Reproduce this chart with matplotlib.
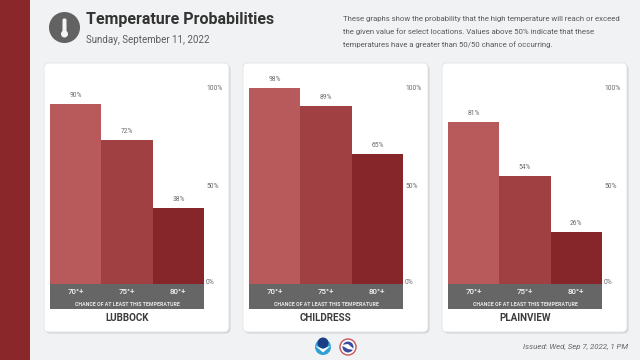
#!/usr/bin/env python3
import matplotlib
matplotlib.use("Agg")
import matplotlib.pyplot as plt
from matplotlib.patches import Circle, FancyBboxPatch, Polygon, Rectangle

plt.rcParams["font.family"] = ["Roboto", "DejaVu Sans"]

cities = ["LUBBOCK", "CHILDRESS", "PLAINVIEW"]
thresholds = ["70°+", "75°+", "80°+"]
lubbock = [90, 72, 38]
childress = [98, 89, 65]
plainview = [81, 54, 26]
scale_labels = ["100%", "50%", "0%"]
bar_colors = ["#b85a5c", "#a04042", "#86262a"]
title = "Temperature Probabilities"
subtitle = "Sunday, September 11, 2022"
blurb = ["These graphs show the probability that the high temperature will reach or exceed",
         "the given value for select locations. Values above 50% indicate that these",
         "temperatures have a greater than 50/50 chance of occurring."]
band_text = "CHANCE OF AT LEAST THIS TEMPERATURE"
issued = "Issued: Wed, Sep 7, 2022, 1 PM"

W, H = 640, 360
fig = plt.figure(figsize=(W / 100, H / 100), dpi=100, facecolor="#f0f2f3")

# page furniture is laid out in pixel coordinates
bg = fig.add_axes([0, 0, 1, 1])
bg.set_xlim(0, W)
bg.set_ylim(H, 0)
bg.axis("off")
bg.add_patch(Rectangle((0, 0), 30, H, color="#8a272b", lw=0))

# thermometer icon
bg.add_patch(Circle((64.5, 27.5), 15.5, color="#626262", lw=0))
bg.add_patch(FancyBboxPatch((63, 19), 3, 14, boxstyle="round,pad=0.5,rounding_size=1.5", fc="#f4f4f4", lw=0))
bg.add_patch(Circle((64.5, 34), 3.5, color="#f4f4f4", lw=0))

bg.text(86, 19.5, title, fontsize=11.5, color="#333333", va="center", ha="left", fontweight="bold")
bg.text(86, 40, subtitle, fontsize=7.0, color="#5c5c5c", va="center", ha="left")
for i, line in enumerate(blurb):
    bg.text(343, 18.5 + 13 * i, line, fontsize=5.55, color="#5a5a5a", va="center", ha="left")

card_lefts = [44, 243, 442]
bar_lefts = [50, 249, 448]
for cx in card_lefts:
    bg.add_patch(FancyBboxPatch((cx + 1.5, 64.5), 185, 269, boxstyle="round,pad=0,rounding_size=5",
                                fc="#d2d4d6", lw=0))
    bg.add_patch(FancyBboxPatch((cx, 63), 185, 269, boxstyle="round,pad=0,rounding_size=5",
                                fc="white", ec="#e2e4e5", lw=0.6))

series = [lubbock, childress, plainview]
for left, city, values in zip(bar_lefts, cities, series):
    # 2 px per percent, 0% sits at y=284 and the grey band runs 24 px below it
    ax = fig.add_axes([left / W, 1 - 284 / H, 154 / W, 200 / H])
    ax.patch.set_alpha(0)
    ax.set_xlim(-0.5, 2.5)
    ax.set_ylim(0, 100)
    ax.bar(range(3), values, width=1.0, color=bar_colors, lw=0)
    for i, v in enumerate(values):
        ax.text(i, v + 2.5, f"{v}%", fontsize=4.8, color="#6a6a6a", ha="center", va="bottom")
    ax.set_xticks([])
    ax.yaxis.tick_right()
    ax.set_yticks([98.5, 49.5, 1], scale_labels, fontsize=4.9, color="#6a6a6a")
    ax.tick_params(axis="y", length=0, pad=1.5)
    for s in ax.spines.values():
        s.set_visible(False)

    bg.add_patch(Rectangle((left, 284), 154, 24.5, color="#666666", lw=0))
    for i, t in enumerate(thresholds):
        bg.text(left + 25.7 + 51.3 * i, 292, t, fontsize=5.8, color="#f2f2f2", ha="center", va="center", fontweight="medium")
    bg.text(left + 77, 304, band_text, fontsize=3.8, color="#e8e8e8", ha="center", va="center", fontweight="bold")
    bg.text(left + 77, 318, city, fontsize=7.1, color="#3c3c3c", ha="center", va="center", fontweight="bold")

# NOAA and NWS marks, roughly
bg.add_patch(Circle((323, 347), 8, color="#2f9fd8", lw=0))
bg.add_patch(Circle((323, 343), 5.5, color="#1a3f85", lw=0, zorder=2))
bg.add_patch(Polygon([(315, 345.5), (323, 349), (331, 345.5), (323, 352.5)], color="white", lw=0, zorder=3))
bg.add_patch(Circle((348, 347), 8, fc="white", ec="#c8505a", lw=1))
bg.add_patch(Circle((348, 347), 5.5, color="#3a4f9c", lw=0))
bg.add_patch(Polygon([(341, 345), (348, 344), (355, 350), (348, 349)], color="white", lw=0))

bg.text(628, 347.5, issued, fontsize=5.7, color="#666666", ha="right", va="center", style="italic")

fig.savefig("out.png", dpi=100, facecolor=fig.get_facecolor())
